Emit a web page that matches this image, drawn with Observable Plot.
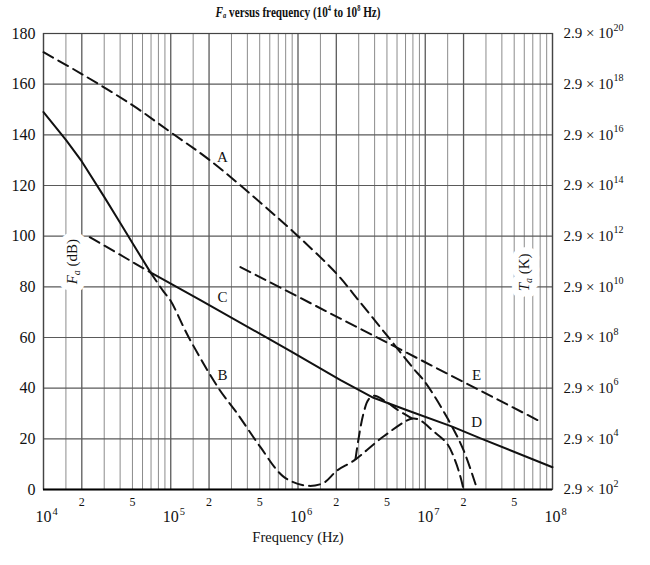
<!DOCTYPE html>
<html>
<head>
<meta charset="utf-8">
<script src="https://cdn.jsdelivr.net/npm/d3@7"></script>
<script src="https://cdn.jsdelivr.net/npm/@observablehq/plot@0.6"></script>
<style>
  body { margin: 0; background: #fff; font-family: "Liberation Serif", "Times New Roman", serif; }
  #title { height: 24px; width: 596px; text-align: center; font-weight: bold; font-size: 14px; line-height: 26px; color: #111; white-space: nowrap; }
  #title span.t { display: inline-block; transform: scaleX(0.8); transform-origin: center; }
  #title sub { font-size: 8px; vertical-align: -1px; }
  #title sup { font-size: 8px; vertical-align: 6px; line-height: 0; }
</style>
</head>
<body>
<div id="title"><span class="t"><i>F</i><sub><i>a</i></sub> versus frequency (10<sup>4</sup> to 10<sup>8</sup> Hz)</span></div>
<div id="chart"></div>
<script>
// Curve A: atmospheric noise, value exceeded 0.5% of time
const freqA = [1.0e4, 2.0e4, 5.0e4, 1.0e5, 2.0e5, 5.0e5, 1.0e6, 2.0e6, 3.0e6, 5.0e6, 8.0e6, 1.0e7, 1.5e7, 2.0e7, 2.56e7];
const faA   = [172.6, 164, 151.7, 141, 130.2, 113.5, 100, 85.3, 74.6, 60.8, 48, 42.3, 28, 15.5, 0];

// Curve B: atmospheric noise, value exceeded 99.5% of time (dashed part)
const freqB = [6.93e4, 8.82e4, 9.95e4, 1.387e5, 2.373e5, 3.33e5, 5.07e5, 7.73e5, 1.167e6, 1.586e6, 2.03e6, 2.745e6, 4.72e6, 7.90e6, 9.18e6, 1.14e7, 1.49e7, 1.73e7, 1.89e7, 2.0e7];
const faB   = [85.7, 78, 74.6, 60, 40, 30, 16.7, 5, 1.5, 2.6, 7.5, 11.4, 21, 28, 27.2, 23.3, 18, 11, 5, 0];

// Curve C: man-made noise, quiet receiving site (dashed part above the minimum line)
const freqC = [2.31e4, 6.93e4];
const faC   = [99.6, 85.7];

// Curve D: galactic noise (dashed part)
const freqD = [2.83e6, 2.99e6, 3.27e6, 3.58e6, 3.99e6, 4.87e6, 6.16e6, 7.90e6];
const faD   = [12, 20, 30, 35.5, 37, 34.8, 31.2, 28];

// Curve E: median business area man-made noise
const freqE = [3.53e5, 7.76e7];
const faE   = [87.8, 27.2];

// Minimum noise level expected (solid)
const freqMin = [1.0e4, 1.5e4, 2.0e4, 3.0e4, 4.0e4, 5.0e4, 6.93e4, 1.71e5, 8.73e5, 2.16e6, 3.92e6, 7.66e6, 1.63e7, 2.72e7, 1.0e8];
const faMin   = [149, 138, 129.5, 115.5, 105.3, 97.3, 85.7, 74.8, 54.6, 43.2, 36.2, 30.8, 24.8, 20.2, 8.8];

// Curve letters
const curveNames = ["A", "B", "C", "D", "E"];
const curveFreq  = [2.55e5, 2.55e5, 2.55e5, 2.53e7, 2.53e7];
const curveFa    = [131, 45, 75.8, 26.4, 45];

// Axis ticks and labels
const faTicks     = [0, 20, 40, 60, 80, 100, 120, 140, 160, 180];
const taExponents = ["2", "4", "6", "8", "10", "12", "14", "16", "18", "20"];
const decadeTicks = [1e4, 1e5, 1e6, 1e7, 1e8];
const decadeExponents = ["4", "5", "6", "7", "8"];
const minorTicks  = [2e4, 5e4, 2e5, 5e5, 2e6, 5e6, 2e7, 5e7];
const minorLabels = ["2", "5", "2", "5", "2", "5", "2", "5"];

// Grid multipliers within each decade
const gridMultipliers = [1.5, 3, 4, 5, 6, 7, 8, 9];
const gridDarkMultipliers = [1, 2];
const decades = [1e4, 1e5, 1e6, 1e7];
const gridLight = decades.flatMap(d => gridMultipliers.map(m => m * d));
const gridDark = decades.flatMap(d => gridDarkMultipliers.map(m => m * d)).concat([1e8]);

const toRows = (fs, vs) => fs.map((f, i) => ({f, fa: vs[i]}));
const curveA = toRows(freqA, faA);
const curveB = toRows(freqB, faB);
const curveC = toRows(freqC, faC);
const curveD = toRows(freqD, faD);
const curveE = toRows(freqE, faE);
const curveMin = toRows(freqMin, faMin);
const letters = curveNames.map((name, i) => ({name, f: curveFreq[i], fa: curveFa[i]}));

const serif = "'Liberation Serif', 'Times New Roman', serif";
const ink = "#111";
const dash = "11,6";

// rotated axis titles sit inside the frame; a white halo copy goes underneath
const faTitle = {frameAnchor: "left", dx: 29, y: 81, rotate: -90, fontSize: 15};
const taTitle = {frameAnchor: "right", dx: -28, y: 93.2, rotate: -90, fontSize: 15};
const halo = {fill: "white", stroke: "white", strokeWidth: 14, strokeLinejoin: "round"};

const chart = Plot.plot({
  width: 650,
  height: 541,
  marginTop: 9,
  marginBottom: 76,
  marginLeft: 43,
  marginRight: 98,
  x: {type: "log", domain: [1e4, 1e8], axis: null},
  y: {domain: [0, 180], axis: null},
  style: {fontFamily: serif, background: "white", color: ink, overflow: "visible"},
  marks: [
    // grid
    Plot.ruleX(gridLight, {stroke: "#8c8c8c", strokeWidth: 1}),
    Plot.ruleX(gridDark, {stroke: "#5a5a5a", strokeWidth: 1.3}),
    Plot.ruleY(faTicks, {stroke: "#5a5a5a", strokeWidth: 1.2}),
    Plot.frame({stroke: "#444", strokeWidth: 1.2}),
    Plot.ruleY([0], {stroke: "#000", strokeWidth: 2}),

    // left axis: Fa (dB)
    Plot.text(faTicks, {y: d => d, frameAnchor: "left", dx: -8, textAnchor: "end", text: d => String(d), fontSize: 16, fill: ink}),
    // right axis: Ta (K)
    Plot.text(faTicks, {y: d => d, frameAnchor: "right", dx: 11, textAnchor: "start", text: () => "2.9 × 10", fontSize: 15, fill: ink}),
    Plot.text(faTicks, {y: d => d, frameAnchor: "right", dx: 61, dy: -6, textAnchor: "start", text: (d, i) => taExponents[i], fontSize: 10, fill: ink}),
    // bottom axis: frequency
    Plot.text(decadeTicks, {x: d => d, frameAnchor: "bottom", dy: 32, text: () => "10", fontSize: 16, fill: ink}),
    Plot.text(decadeTicks, {x: d => d, frameAnchor: "bottom", dx: 9, dy: 25, textAnchor: "start", text: (d, i) => decadeExponents[i], fontSize: 10.5, fill: ink}),
    Plot.text(minorTicks, {x: d => d, frameAnchor: "bottom", dy: 16, text: (d, i) => minorLabels[i], fontSize: 12, fill: ink}),
    Plot.text(["Frequency (Hz)"], {frameAnchor: "bottom", dy: 52, fontSize: 14.5, fill: ink}),

    Plot.text(["F (dB)"], {...faTitle, ...halo, className: "fa-halo"}),
    Plot.text(["F (dB)"], {...faTitle, fill: ink, className: "fa-title"}),
    Plot.text(["T (K)"], {...taTitle, ...halo, className: "ta-halo"}),
    Plot.text(["T (K)"], {...taTitle, fill: ink, className: "ta-title"}),

    // curves
    Plot.line(curveE, {x: "f", y: "fa", stroke: ink, strokeWidth: 2, strokeDasharray: dash}),
    Plot.line(curveA, {x: "f", y: "fa", stroke: ink, strokeWidth: 2, strokeDasharray: dash, curve: "catmull-rom"}),
    Plot.line(curveB, {x: "f", y: "fa", stroke: ink, strokeWidth: 2, strokeDasharray: dash, curve: "catmull-rom"}),
    Plot.line(curveC, {x: "f", y: "fa", stroke: ink, strokeWidth: 2, strokeDasharray: dash}),
    Plot.line(curveD, {x: "f", y: "fa", stroke: ink, strokeWidth: 2, strokeDasharray: dash, curve: "catmull-rom"}),
    Plot.line(curveMin, {x: "f", y: "fa", stroke: ink, strokeWidth: 2}),

    // curve letters
    Plot.text(letters, {x: "f", y: "fa", text: "name", fontSize: 15, fill: ink})
  ]
});

// italic symbol with subscript "a" in the rotated axis titles
function symbolTitle(selector, symbol, unit) {
  const t = d3.select(chart).select(selector + " text");
  t.text(null);
  t.append("tspan").attr("font-style", "italic").text(symbol);
  t.append("tspan").attr("font-style", "italic").attr("font-size", 10).attr("dy", 3).text("a");
  t.append("tspan").attr("dy", -3).text(" " + unit);
}
symbolTitle(".fa-halo", "F", "(dB)");
symbolTitle(".fa-title", "F", "(dB)");
symbolTitle(".ta-halo", "T", "(K)");
symbolTitle(".ta-title", "T", "(K)");

document.getElementById("chart").append(chart);
</script>
</body>
</html>
